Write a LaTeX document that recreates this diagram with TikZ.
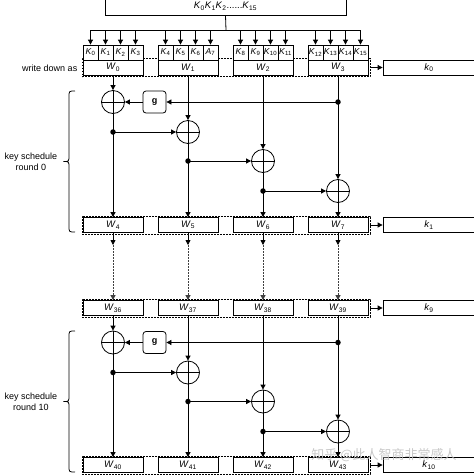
\documentclass[tikz,border=0pt]{standalone}
\usepackage{fontspec}
\setmainfont{Liberation Sans}
\newfontfamily\cjk{Noto Sans CJK SC}
\usetikzlibrary{arrows.meta,calc}
\newcommand\kk[1]{\textit{K}\textsubscript{#1}}
\newcommand\ww[1]{\textit{W}\textsubscript{#1}}
\begin{document}
\begin{tikzpicture}[x=1pt,y=-1pt, line width=0.8pt, line cap=butt,
  >={Triangle[length=5pt,width=5pt]},
  wbox/.style={draw, fill=white, minimum width=60pt, minimum height=15pt, inner sep=0pt, font=\fontsize{9.5}{10}\selectfont},
  kcell/.style={draw, fill=white, minimum width=15pt, minimum height=15pt, inner sep=0pt, font=\fontsize{8.6}{9}\selectfont},
  kbox/.style={draw, fill=white, minimum width=92pt, minimum height=15pt, inner sep=0pt, font=\fontsize{9.5}{10}\selectfont},
  rowrect/.style={draw, dash pattern=on 1.8pt off 1.2pt, minimum width=288pt, minimum height=18pt, inner sep=0pt},
  xorc/.style={draw, circle, minimum size=23pt, inner sep=0pt,
    path picture={\draw (path picture bounding box.north) -- (path picture bounding box.south)
                        (path picture bounding box.west) -- (path picture bounding box.east);}},
  gbox/.style={draw, rounded corners=3pt, minimum width=23pt, minimum height=22pt, inner sep=0pt, font=\bfseries\fontsize{9}{9}\selectfont},
  jdot/.style={circle, fill, inner sep=0pt, minimum size=5.5pt},
  lbl/.style={font=\fontsize{9}{11}\selectfont, align=center},
  gap/.style={draw=black!75, dash pattern=on 1.8pt off 1.2pt}
]
\useasboundingbox (0,0) rectangle (474,475);
\clip (0,0) rectangle (474,475);

% ---------- rows of words ----------
% #1 row id, #2 y centre, #3 first W index, #4 k label
\newcommand\wrow[4]{%
  \node[rowrect] (rr#1) at (226,#2) {};
  \foreach \j in {0,1,2,3}{%
    \pgfmathtruncatemacro\idx{#3+\j}%
    \node[wbox] (r#1c\j) at (113+75*\j,#2) {\ww{\idx}};
  }%
  \node[kbox] (k#1) at (429,#2) {\textit{k}\textsubscript{#4}};
  \draw[->] (rr#1.east) -- (k#1.west);
}

% ---------- top ----------
\node[draw, minimum width=241pt, minimum height=17pt, inner sep=0pt, font=\fontsize{9.5}{10}\selectfont] (key) at (225.5,6.5)
  {\kk{0}\kk{1}\kk{2}......\kk{15}};
\coordinate (bus) at (226,30);
\draw (key.south) -- (bus);
\coordinate (busL) at (90.5,30);
\coordinate (busR) at (360.5,30);
\draw (busL) -- (busR);

\wrow{0}{67.5}{0}{0}
\foreach \j in {0,1,2,3}{%
  \foreach \m in {0,1,2,3}{%
    \pgfmathtruncatemacro\kidx{4*\j+\m}%
    \node[kcell] (kc\kidx) at (90.5+75*\j+15*\m,52.5) {\ifnum\kidx=7 \textit{A}\textsubscript{7}\else\kk{\kidx}\fi};
    \coordinate (kt\kidx) at (90.5+75*\j+15*\m,30);
    \draw[->] (kt\kidx) -- (kc\kidx.north);
  }%
}
\node[lbl, anchor=east] (wda) at (81,68) {write down as};

\wrow{1}{225}{4}{1}
\wrow{2}{308}{36}{9}
\wrow{3}{465}{40}{10}

% ---------- key schedule round ----------
% #1 in row, #2 out row, #3 base y, #4 tag
\newcommand\keyround[4]{%
  \node[xorc] (x#4a) at (113,#3+34.5) {};
  \node[xorc] (x#4b) at (188,#3+64.5) {};
  \node[xorc] (x#4c) at (263,#3+93.5) {};
  \node[xorc] (x#4d) at (338,#3+123.5) {};
  \node[gbox] (g#4) at (154.5,#3+34.5) {g};
  \node[jdot] (d#4a) at (338,#3+34.5) {};
  \node[jdot] (d#4b) at (113,#3+64.5) {};
  \node[jdot] (d#4c) at (188,#3+93.5) {};
  \node[jdot] (d#4d) at (263,#3+123.5) {};
  \draw[->] (r#1c0.south) -- (x#4a.north);
  \draw[->] (r#1c1.south) -- (x#4b.north);
  \draw[->] (r#1c2.south) -- (x#4c.north);
  \draw[->] (r#1c3.south) -- (x#4d.north);
  \draw[->] (d#4a.center) -- (g#4.east);
  \draw[->] (g#4.west) -- (x#4a.east);
  \draw[->] (d#4b.center) -- (x#4b.west);
  \draw[->] (d#4c.center) -- (x#4c.west);
  \draw[->] (d#4d.center) -- (x#4d.west);
  \draw[->] (x#4a.south) -- (r#2c0.north);
  \draw[->] (x#4b.south) -- (r#2c1.north);
  \draw[->] (x#4c.south) -- (r#2c2.north);
  \draw[->] (x#4d.south) -- (r#2c3.north);
}
\keyround{0}{1}{67.5}{p}
\keyround{2}{3}{308}{q}

% ---------- gap between rounds ----------
\foreach \j in {0,1,2,3}{%
  \coordinate (gm\j) at (113+75*\j,245);
  \draw[->] (r1c\j.south) -- (gm\j);
  \draw[gap,->] (gm\j) -- (r2c\j.north);
}

% ---------- braces and labels ----------
\draw (75,91) .. controls (69,91) .. (69,97) -- (69,155.5)
      .. controls (69,161.5) .. (63.5,161.5) .. controls (69,161.5) .. (69,167.5)
      -- (69,226) .. controls (69,232) .. (75,232);
\draw (75,331) .. controls (69,331) .. (69,337) -- (69,395.5)
      .. controls (69,401.5) .. (63.5,401.5) .. controls (69,401.5) .. (69,407.5)
      -- (69,466) .. controls (69,472) .. (75,472);
\node[lbl] (lr0) at (31,162) {key schedule\\round 0};
\node[lbl] (lr10) at (31,402) {key schedule\\round 10};

% ---------- watermark ----------
\node[font=\cjk\fontsize{13}{13}\selectfont, text=black!25, opacity=0.85] (wm) at (384,455) {知乎 @此人智商非常感人};
\end{tikzpicture}
\end{document}
